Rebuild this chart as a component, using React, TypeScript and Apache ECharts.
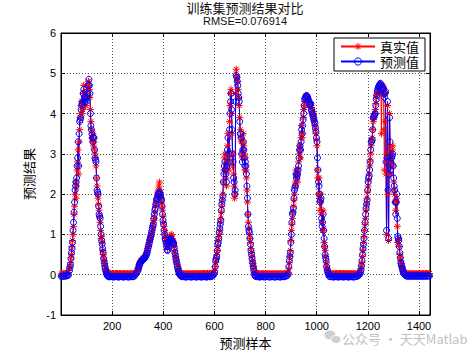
import React, { useEffect, useRef } from "react";
import * as echarts from "echarts";

const titleText = "训练集预测结果对比";
const subtitleText = "RMSE=0.076914";
const xAxisName = "预测样本";
const yAxisName = "预测结果";
const seriesNames = ["真实值", "预测值"];
const watermarkText = "公众号 · 天天Matlab";

// axis extents and tick steps
const xMax = 1443;
const xTickStep = 200;
const yMin = -1;
const yMax = 6;

// ---------- 真实值 (true values), read per segment ----------
// flat segments: one value every 4th sample; peaks: one value every 2nd sample
const trueBaseA = [0.02, 0.02, 0.03, 0.02, 0.03, 0.03, 0.04, 0.05];
const truePeak1 = [
  0.15, 0.2, 0.3, 0.42, 0.5, 0.7, 0.85, 1.0, 1.2, 1.5,
  1.7, 2.0, 2.3, 1.9, 2.2, 2.6, 2.8, 3.1, 2.5, 3.3,
  3.6, 3.9, 4.0, 4.2, 4.3, 4.0, 4.1, 4.5, 4.7, 4.5,
  4.4, 4.2, 4.2, 4.4, 4.5, 4.6, 4.6, 4.8, 4.7, 4.6,
  4.4, 4.1, 3.8, 3.6, 3.4, 3.3, 3.5, 3.2, 3.3, 3.1,
  3.0, 2.9, 2.7, 2.4, 2.2, 2.0, 1.9, 1.75, 1.6, 1.45,
  1.3, 1.1, 0.9, 0.95, 0.8, 0.6, 0.5, 0.42, 0.35, 0.28,
  0.2, 0.15, 0.1, 0.07, 0.05, 0.04, 0.03, 0.03, 0.03,
];
const trueBaseB = [
  0.03, 0.02, 0.03, 0.03, 0.02, 0.03, 0.03, 0.03, 0.02, 0.03,
  0.03, 0.02, 0.03, 0.03, 0.03, 0.02, 0.03, 0.03, 0.02, 0.03,
  0.03, 0.03, 0.02, 0.03, 0.04, 0.05, 0.1,
];
const truePeak2 = [
  0.15, 0.2, 0.25, 0.28, 0.3, 0.33, 0.35, 0.36, 0.38, 0.39,
  0.4, 0.41, 0.42, 0.44, 0.45, 0.48, 0.5, 0.55, 0.6, 0.65,
  0.7, 0.75, 0.8, 0.85, 0.88, 0.95, 1.0, 1.05, 1.1, 1.2,
  1.3, 1.35, 1.4, 1.55, 1.7, 1.75, 1.8, 1.9, 2.0, 2.05,
  2.1, 2.2, 2.3, 2.1, 2.0, 1.9, 1.8, 1.7, 1.6, 1.45,
  1.3, 1.2, 1.1, 1.0, 0.9, 0.85, 0.8, 0.7, 0.65, 0.7,
  0.75, 0.85, 0.9, 0.92, 0.95, 0.98, 1.0, 0.9, 0.85, 0.82,
  0.8, 0.7, 0.6, 0.52, 0.45, 0.38, 0.3, 0.25, 0.2, 0.15,
  0.1, 0.07, 0.05, 0.04, 0.03, 0.03, 0.03,
];
const trueBaseC = [
  0.03, 0.02, 0.03, 0.03, 0.02, 0.03, 0.03, 0.03, 0.02, 0.03,
  0.03, 0.02, 0.03, 0.03, 0.03, 0.02, 0.03, 0.03, 0.02, 0.03,
  0.03, 0.03, 0.02, 0.03, 0.03, 0.02, 0.03, 0.03, 0.03, 0.04,
  0.05,
];
const truePeak3 = [
  0.1, 0.2, 0.3, 0.4, 0.5, 0.6, 0.7, 0.85, 0.95, 1.0,
  1.1, 1.3, 1.4, 1.55, 1.7, 1.85, 2.0, 2.3, 2.6, 2.9,
  3.0, 2.6, 2.4, 2.2, 2.8, 3.2, 3.5, 2.9, 2.6, 3.8,
  4.2, 4.5, 4.6, 4.0, 3.5, 2.7, 3.0, 2.5, 2.2, 1.9,
  2.0, 4.5, 5.1, 4.95, 4.9, 4.8, 4.6, 4.4, 4.2, 3.9,
  3.6, 3.4, 3.3, 3.0, 2.9, 3.3, 3.5, 3.2, 3.0, 2.6,
  2.9, 2.6, 2.4, 2.1, 1.8, 1.5, 1.3, 1.15, 1.0, 0.9,
  0.8, 0.65, 0.55, 0.45, 0.35, 0.28, 0.2, 0.12, 0.05, 0.04,
  0.03,
];
const trueBaseD = [
  0.03, 0.02, 0.03, 0.03, 0.02, 0.03, 0.03, 0.03, 0.02, 0.03,
  0.03, 0.02, 0.03, 0.03, 0.03, 0.02, 0.03, 0.03, 0.02, 0.03,
  0.03, 0.03, 0.02, 0.03, 0.03, 0.02, 0.03, 0.03, 0.03, 0.03,
  0.04,
];
const truePeak4 = [
  0.05, 0.15, 0.3, 0.45, 0.6, 0.85, 1.1, 1.25, 1.4, 1.55,
  1.7, 1.85, 2.0, 2.2, 2.3, 2.6, 2.5, 2.4, 2.3, 2.6,
  2.8, 3.0, 3.2, 3.1, 2.9, 3.4, 3.7, 3.4, 3.5, 3.9,
  4.1, 4.2, 4.3, 4.4, 4.45, 4.42, 4.4, 4.38, 4.35, 4.32,
  4.3, 4.28, 4.25, 4.22, 4.2, 4.15, 4.1, 4.05, 4.0, 3.95,
  3.9, 3.8, 3.7, 3.6, 3.5, 3.35, 3.2, 2.6, 2.4, 2.0,
  2.4, 1.9, 1.6, 1.8, 2.0, 1.5, 1.3, 1.1, 1.6, 1.1,
  0.8, 0.7, 0.6, 0.45, 0.3, 0.22, 0.15, 0.1, 0.06, 0.04,
  0.03,
];
const trueBaseE = [
  0.03, 0.02, 0.03, 0.03, 0.02, 0.03, 0.03, 0.03, 0.02, 0.03,
  0.03, 0.02, 0.03, 0.03, 0.03, 0.02, 0.03, 0.03, 0.02, 0.03,
  0.03, 0.03, 0.02, 0.03, 0.03, 0.02, 0.03, 0.03, 0.04,
];
const truePeak5 = [
  0.05, 0.1, 0.15, 0.22, 0.3, 0.45, 0.6, 0.8, 0.95, 1.1,
  1.25, 1.4, 1.6, 1.75, 1.9, 2.05, 2.2, 2.35, 2.5, 2.7,
  2.85, 3.0, 3.2, 3.3, 3.4, 3.6, 3.8, 3.85, 3.9, 4.0,
  4.1, 4.25, 4.4, 4.45, 4.5, 4.55, 4.6, 4.65, 4.7, 4.72,
  4.75, 4.6, 3.5, 4.5, 4.7, 4.68, 4.65, 3.6, 2.6, 3.8,
  4.5, 2.5, 1.0, 3.0, 4.2, 2.0, 0.85, 2.8, 4.0, 3.2,
  2.5, 2.8, 3.0, 3.1, 3.2, 2.7, 2.3, 2.1, 2.0, 1.8,
  1.6, 1.8, 1.9, 1.2, 0.8, 0.85, 0.9, 0.7, 0.5, 0.42,
  0.35, 0.28, 0.2, 0.15, 0.12, 0.08, 0.06, 0.05, 0.04,
];
const trueBaseF = [
  0.03, 0.02, 0.03, 0.03, 0.02, 0.03, 0.03, 0.03, 0.02, 0.03,
  0.03, 0.02, 0.03, 0.03, 0.03, 0.02, 0.03, 0.03, 0.02, 0.03,
  0.03, 0.03, 0.02, 0.03,
];

// ---------- 预测值 (predicted values), same sampling ----------
const predBaseA = [-0.04, -0.04, -0.03, -0.04, -0.03, -0.03, -0.02, -0.01];
const predPeak1 = [
  0.1, 0.18, 0.25, 0.4, 0.55, 0.65, 0.8, 1.1, 1.3, 1.55,
  1.8, 2.1, 2.2, 2.3, 2.4, 2.7, 2.9, 3.3, 2.7, 3.5,
  3.8, 3.85, 3.9, 4.1, 4.2, 4.25, 4.3, 4.5, 4.6, 4.4,
  4.3, 4.35, 4.4, 4.3, 4.4, 4.5, 4.5, 4.7, 4.85, 4.7,
  4.5, 4.0, 3.7, 3.6, 3.5, 3.4, 3.3, 3.4, 3.4, 3.1,
  2.9, 2.85, 2.8, 2.4, 2.1, 2.05, 2.0, 1.7, 1.5, 1.45,
  1.4, 1.2, 1.0, 0.85, 0.75, 0.65, 0.55, 0.4, 0.3, 0.22,
  0.15, 0.1, 0.05, 0.01, -0.02, -0.03, -0.04, -0.05, -0.05,
];
const predBaseB = [
  -0.05, -0.04, -0.05, -0.06, -0.05, -0.04, -0.05, -0.05, -0.06, -0.05,
  -0.04, -0.05, -0.05, -0.06, -0.05, -0.04, -0.05, -0.05, -0.06, -0.05,
  -0.04, -0.05, -0.05, -0.04, -0.02, 0.02, 0.06,
];
const predPeak2 = [
  0.1, 0.15, 0.2, 0.24, 0.28, 0.3, 0.32, 0.34, 0.36, 0.37,
  0.38, 0.39, 0.4, 0.42, 0.43, 0.46, 0.48, 0.52, 0.55, 0.62,
  0.68, 0.72, 0.78, 0.85, 0.9, 0.95, 1.0, 1.08, 1.15, 1.2,
  1.25, 1.4, 1.5, 1.6, 1.65, 1.75, 1.85, 1.88, 1.9, 1.95,
  2.0, 2.02, 2.05, 2.0, 1.95, 1.9, 1.85, 1.7, 1.5, 1.35,
  1.25, 1.1, 1.0, 0.9, 0.85, 0.78, 0.7, 0.62, 0.6, 0.7,
  0.8, 0.82, 0.85, 0.88, 0.9, 0.88, 0.85, 0.82, 0.8, 0.78,
  0.75, 0.65, 0.55, 0.48, 0.4, 0.34, 0.28, 0.2, 0.15, 0.1,
  0.05, 0.02, 0.0, -0.02, -0.03, -0.04, -0.05,
];
const predBaseC = [
  -0.05, -0.04, -0.05, -0.06, -0.05, -0.04, -0.05, -0.05, -0.06, -0.05,
  -0.04, -0.05, -0.05, -0.06, -0.05, -0.04, -0.05, -0.05, -0.06, -0.05,
  -0.04, -0.05, -0.05, -0.06, -0.05, -0.04, -0.05, -0.05, -0.04, -0.02,
  0.0,
];
const predPeak3 = [
  0.05, 0.2, 0.35, 0.4, 0.45, 0.6, 0.75, 0.8, 0.9, 1.05,
  1.15, 1.25, 1.35, 1.6, 1.75, 1.85, 1.95, 2.3, 2.5, 2.7,
  2.8, 2.6, 2.5, 2.3, 2.7, 3.1, 3.4, 3.0, 2.8, 3.6,
  4.0, 4.3, 4.5, 4.1, 3.6, 3.0, 2.8, 2.4, 2.3, 2.0,
  2.1, 4.3, 4.95, 4.9, 4.8, 4.7, 4.5, 4.4, 4.3, 3.8,
  3.5, 3.5, 3.4, 3.0, 2.8, 3.1, 3.3, 3.1, 2.9, 2.7,
  2.8, 2.7, 2.5, 2.2, 1.9, 1.5, 1.2, 1.1, 1.05, 0.9,
  0.75, 0.6, 0.5, 0.4, 0.3, 0.22, 0.15, 0.08, 0.0, -0.02,
  -0.04,
];
const predBaseD = [
  -0.05, -0.04, -0.05, -0.06, -0.05, -0.04, -0.05, -0.05, -0.06, -0.05,
  -0.04, -0.05, -0.05, -0.06, -0.05, -0.04, -0.05, -0.05, -0.06, -0.05,
  -0.04, -0.05, -0.05, -0.06, -0.05, -0.04, -0.05, -0.05, -0.04, -0.03,
  -0.02,
];
const predPeak4 = [
  0.02, 0.2, 0.35, 0.45, 0.55, 0.8, 1.0, 1.3, 1.5, 1.55,
  1.65, 1.9, 2.1, 2.15, 2.2, 2.5, 2.4, 2.45, 2.5, 2.6,
  2.7, 2.9, 3.1, 3.2, 3.1, 3.3, 3.6, 3.5, 3.7, 3.85,
  4.0, 4.2, 4.35, 4.38, 4.4, 4.42, 4.45, 4.42, 4.4, 4.35,
  4.3, 4.25, 4.2, 4.22, 4.25, 4.1, 4.05, 4.0, 3.95, 3.9,
  3.85, 3.8, 3.75, 3.65, 3.55, 3.4, 3.3, 2.9, 2.6, 2.3,
  2.2, 2.0, 1.8, 1.85, 1.9, 1.4, 1.2, 1.3, 1.5, 1.1,
  0.9, 0.7, 0.5, 0.42, 0.35, 0.2, 0.12, 0.06, 0.03, 0.0,
  -0.04,
];
const predBaseE = [
  -0.05, -0.04, -0.05, -0.06, -0.05, -0.04, -0.05, -0.05, -0.06, -0.05,
  -0.04, -0.05, -0.05, -0.06, -0.05, -0.04, -0.05, -0.05, -0.06, -0.05,
  -0.04, -0.05, -0.05, -0.06, -0.05, -0.04, -0.04, -0.03, -0.01,
];
const predPeak5 = [
  0.02, 0.06, 0.12, 0.22, 0.35, 0.5, 0.65, 0.75, 0.9, 1.1,
  1.3, 1.5, 1.65, 1.75, 1.85, 2.1, 2.3, 2.4, 2.45, 2.6,
  2.8, 3.1, 3.3, 3.3, 3.35, 3.6, 3.9, 3.92, 3.95, 3.98,
  4.0, 4.2, 4.35, 4.45, 4.55, 4.6, 4.65, 4.68, 4.7, 4.72,
  4.75, 4.7, 4.6, 4.62, 4.65, 4.62, 4.6, 4.5, 4.4, 4.5,
  4.55, 2.8, 1.1, 2.9, 4.3, 2.1, 0.9, 2.5, 3.9, 3.3,
  2.6, 2.75, 2.9, 2.95, 3.0, 2.7, 2.4, 2.2, 2.1, 1.8,
  1.5, 1.8, 2.0, 1.4, 0.95, 0.9, 0.85, 0.7, 0.55, 0.42,
  0.3, 0.25, 0.2, 0.15, 0.1, 0.06, 0.03, 0.01, 0.0,
];
const predBaseF = [
  -0.03, -0.03, -0.04, -0.03, -0.03, -0.04, -0.03, -0.03, -0.04, -0.03,
  -0.03, -0.04, -0.03, -0.03, -0.04, -0.03, -0.03, -0.04, -0.03, -0.03,
  -0.04, -0.03, -0.03, -0.03,
];

// first sample index and sample step of each segment
const segmentStart = [1, 33, 193, 301, 477, 601, 765, 889, 1053, 1169, 1349];
const segmentStep = [4, 2, 4, 2, 4, 2, 4, 2, 4, 2, 4];
const trueSegments = [
  trueBaseA, truePeak1, trueBaseB, truePeak2, trueBaseC, truePeak3,
  trueBaseD, truePeak4, trueBaseE, truePeak5, trueBaseF,
];
const predSegments = [
  predBaseA, predPeak1, predBaseB, predPeak2, predBaseC, predPeak3,
  predBaseD, predPeak4, predBaseE, predPeak5, predBaseF,
];

const CJK = '"Noto Sans CJK SC", sans-serif';
const LATIN = '"Liberation Sans", Arial, sans-serif';
const asterisk = "path://M5 0L5 10M0 5L10 5M1.5 1.5L8.5 8.5M8.5 1.5L1.5 8.5";

function toPairs(segs: number[][]) {
  const out: number[][] = [];
  segs.forEach((seg, k) => {
    seg.forEach((v, i) => out.push([segmentStart[k] + segmentStep[k] * i, v]));
  });
  return out;
}

export default function App() {
  const ref = useRef<HTMLDivElement>(null);

  useEffect(() => {
    const chart = echarts.init(ref.current!, null, { renderer: "svg" });

    const axisCommonX = { type: "value", min: 0, max: xMax, interval: xTickStep };
    const axisCommonY = { type: "value", min: yMin, max: yMax, interval: 1 };
    const boxLine = { show: true, onZero: false, lineStyle: { color: "#000", width: 1 } };
    const inTick = { show: true, inside: true, length: 4, lineStyle: { color: "#000" } };
    const gridLine = { show: true, lineStyle: { color: "#555", width: 1, type: [1, 2] } };

    chart.setOption({
      animation: false,
      backgroundColor: "#fff",
      title: [
        {
          text: titleText,
          left: 245,
          top: 1,
          textAlign: "center",
          padding: 0,
          textStyle: { fontFamily: CJK, fontSize: 13, fontWeight: "normal", color: "#111", lineHeight: 13 },
        },
        {
          text: subtitleText,
          left: 245,
          top: 15,
          textAlign: "center",
          padding: 0,
          textStyle: { fontFamily: LATIN, fontSize: 11, fontWeight: "normal", color: "#111", lineHeight: 12 },
        },
      ],
      grid: {
        left: 61,
        top: 33,
        width: 369,
        height: 282,
        show: true,
        borderColor: "#000",
        borderWidth: 1,
        backgroundColor: "transparent",
      },
      legend: {
        orient: "vertical",
        left: 334,
        top: 38,
        padding: [2, 6, 3, 6],
        itemGap: 2,
        itemWidth: 34,
        itemHeight: 9,
        backgroundColor: "#fff",
        borderColor: "#000",
        borderWidth: 1,
        borderRadius: 0,
        itemStyle: { borderWidth: 1 },
        textStyle: { fontFamily: CJK, fontSize: 13, color: "#000", lineHeight: 13 },
        data: seriesNames,
      },
      xAxis: [
        {
          ...axisCommonX,
          position: "bottom",
          name: xAxisName,
          nameLocation: "middle",
          nameGap: 10,
          nameTextStyle: { fontFamily: CJK, fontSize: 13, color: "#000", lineHeight: 13 },
          axisLine: boxLine,
          axisTick: inTick,
          axisLabel: {
            color: "#000",
            fontFamily: LATIN,
            fontSize: 11,
            lineHeight: 11,
            margin: 5,
            formatter: (v: number) => (v > 0 && v % xTickStep === 0 ? String(v) : ""),
          },
          splitLine: gridLine,
        },
        {
          ...axisCommonX,
          position: "top",
          axisLine: boxLine,
          axisTick: inTick,
          axisLabel: { show: false },
          splitLine: { show: false },
        },
      ],
      yAxis: [
        {
          ...axisCommonY,
          position: "left",
          name: yAxisName,
          nameLocation: "middle",
          nameRotate: 90,
          nameGap: 13,
          nameTextStyle: { fontFamily: CJK, fontSize: 13, color: "#000" },
          axisLine: boxLine,
          axisTick: inTick,
          axisLabel: { color: "#000", fontFamily: LATIN, fontSize: 11, margin: 5 },
          splitLine: gridLine,
        },
        {
          ...axisCommonY,
          position: "right",
          axisLine: boxLine,
          axisTick: inTick,
          axisLabel: { show: false },
          splitLine: { show: false },
        },
      ],
      series: [
        {
          name: seriesNames[0],
          type: "line",
          xAxisIndex: 0,
          yAxisIndex: 0,
          data: toPairs(trueSegments),
          showSymbol: true,
          showAllSymbol: true,
          symbol: asterisk,
          symbolSize: 7,
          lineStyle: { color: "#ff0000", width: 1 },
          itemStyle: { color: "#ff0000", borderColor: "#ff0000", borderWidth: 1 },
          emphasis: { disabled: true },
          silent: true,
        },
        {
          name: seriesNames[1],
          type: "line",
          xAxisIndex: 0,
          yAxisIndex: 0,
          data: toPairs(predSegments),
          showSymbol: true,
          showAllSymbol: true,
          symbol: "circle",
          symbolSize: 6,
          lineStyle: { color: "#0000ff", width: 1 },
          itemStyle: { color: "rgba(0,0,255,0)", borderColor: "#0000ff", borderWidth: 1 },
          emphasis: { disabled: true },
          silent: true,
        },
      ],
      graphic: [
        {
          type: "ellipse",
          shape: { cx: 330, cy: 335, rx: 6, ry: 5 },
          style: { fill: "#d0d0d0", stroke: "#fff", lineWidth: 1 },
          silent: true,
        },
        {
          type: "ellipse",
          shape: { cx: 336, cy: 339.5, rx: 5, ry: 4 },
          style: { fill: "#d0d0d0", stroke: "#fff", lineWidth: 1 },
          silent: true,
        },
        {
          type: "text",
          left: 342,
          top: 332,
          silent: true,
          style: {
            text: watermarkText,
            fill: "#c2c2c2",
            font: '13px "Noto Sans CJK SC", sans-serif',
            lineHeight: 13,
          },
        },
      ],
    });

    return () => chart.dispose();
  }, []);

  return (
    <div
      ref={ref}
      style={{ position: "fixed", left: 0, top: 0, width: 474, height: 354 }}
    />
  );
}
